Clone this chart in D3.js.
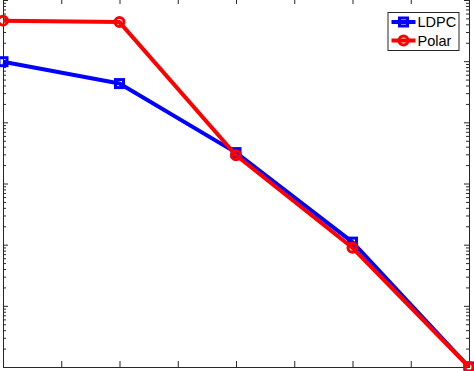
<!DOCTYPE html>
<html>
<head>
<meta charset="utf-8">
<script src="https://cdn.jsdelivr.net/npm/d3@7"></script>
<style>
  body { margin: 0; padding: 0; background: white; }
  svg { display: block; }
</style>
</head>
<body>
<div id="main"></div>
<script>
const w = 474;
const h = 371;
const plotLeft = 3, plotRight = 469, plotTop = 0, plotBottom = 367;

// data (log y axis, one decade ~ 61px)
const snr = [0, 1, 2, 3, 4];
const ldpc = [0.098, 0.043, 3.2e-3, 1.1e-4, 1e-6];
const polar = [0.46, 0.435, 2.9e-3, 8.9e-5, 1e-6];
const xTicks = [0, 0.5, 1, 1.5, 2, 2.5, 3, 3.5, 4];
const yMajor = [1e-6, 1e-5, 1e-4, 1e-3, 1e-2, 1e-1, 1];
const seriesNames = ['LDPC', 'Polar'];
const seriesColors = ['#0000ff', '#ff0000'];

const yMinor = [];
yMajor.slice(0, -1).forEach(d => {
  for (let k = 2; k <= 9; k++) yMinor.push(d * k);
});

const xScale = d3.scaleLinear()
                 .domain([0, 4])
                 .range([plotLeft, plotRight]);
const yScale = d3.scaleLog()
                 .domain([1e-6, 1])
                 .range([plotBottom, plotTop]);

const svg = d3.select('#main')
              .append('svg')
              .attr('width', w)
              .attr('height', h);

const axisColor = '#262626';

function styleAxis(g) {
  g.selectAll('path').attr('stroke', axisColor).attr('stroke-width', 1);
  g.selectAll('line').attr('stroke', axisColor).attr('stroke-width', 1);
  g.selectAll('text').remove();
}

svg.append('g')
   .attr('transform', 'translate(0,' + plotBottom + ')')
   .call(d3.axisBottom(xScale).tickValues(xTicks).tickSizeInner(-6).tickSizeOuter(0).tickFormat(''))
   .call(styleAxis);
// top box edge sits just above the cropped picture, only its ticks show
svg.append('g')
   .attr('transform', 'translate(0,' + (plotTop - 2) + ')')
   .call(d3.axisTop(xScale).tickValues(xTicks).tickSizeInner(-6).tickSizeOuter(0).tickFormat(''))
   .call(styleAxis);

svg.append('g')
   .attr('transform', 'translate(' + plotLeft + ',0)')
   .call(d3.axisLeft(yScale).tickValues(yMajor).tickSizeInner(-5).tickSizeOuter(0).tickFormat(''))
   .call(styleAxis);
svg.append('g')
   .attr('transform', 'translate(' + plotLeft + ',0)')
   .call(d3.axisLeft(yScale).tickValues(yMinor).tickSizeInner(-3).tickSizeOuter(0).tickFormat(''))
   .call(styleAxis);
svg.append('g')
   .attr('transform', 'translate(' + plotRight + ',0)')
   .call(d3.axisRight(yScale).tickValues(yMajor).tickSizeInner(-5).tickSizeOuter(0).tickFormat(''))
   .call(styleAxis);
svg.append('g')
   .attr('transform', 'translate(' + plotRight + ',0)')
   .call(d3.axisRight(yScale).tickValues(yMinor).tickSizeInner(-3).tickSizeOuter(0).tickFormat(''))
   .call(styleAxis);

const line = d3.line()
               .x((d, i) => xScale(snr[i]))
               .y(d => yScale(d));

// LDPC
svg.append('path')
   .datum(ldpc)
   .attr('d', line)
   .attr('fill', 'none')
   .attr('stroke', seriesColors[0])
   .attr('stroke-width', 4)
   .attr('stroke-linejoin', 'round');
svg.selectAll('rect.ldpc')
   .data(ldpc)
   .enter()
   .append('rect')
   .attr('class', 'ldpc')
   .attr('x', (d, i) => xScale(snr[i]) - 4)
   .attr('y', d => yScale(d) - 4)
   .attr('width', 8)
   .attr('height', 8)
   .attr('fill', 'none')
   .attr('stroke', seriesColors[0])
   .attr('stroke-width', 3);

// Polar
svg.append('path')
   .datum(polar)
   .attr('d', line)
   .attr('fill', 'none')
   .attr('stroke', seriesColors[1])
   .attr('stroke-width', 4)
   .attr('stroke-linejoin', 'round');
svg.selectAll('circle.polar')
   .data(polar)
   .enter()
   .append('circle')
   .attr('class', 'polar')
   .attr('cx', (d, i) => xScale(snr[i]))
   .attr('cy', d => yScale(d))
   .attr('r', 4.5)
   .attr('fill', 'none')
   .attr('stroke', seriesColors[1])
   .attr('stroke-width', 3);

// legend
const legend = svg.append('g')
                  .attr('transform', 'translate(388,12.5)');
legend.append('rect')
      .attr('width', 71)
      .attr('height', 38)
      .attr('fill', 'white')
      .attr('stroke', axisColor)
      .attr('stroke-width', 1);

seriesNames.forEach((name, i) => {
  const yy = 9.5 + i * 18.5;
  legend.append('line')
        .attr('x1', 3.5).attr('x2', 27.5)
        .attr('y1', yy).attr('y2', yy)
        .attr('stroke', seriesColors[i])
        .attr('stroke-width', 4);
  if (i === 0) {
    legend.append('rect')
          .attr('x', 11.5).attr('y', yy - 4)
          .attr('width', 8).attr('height', 8)
          .attr('fill', 'none')
          .attr('stroke', seriesColors[i])
          .attr('stroke-width', 3);
  } else {
    legend.append('circle')
          .attr('cx', 15.5).attr('cy', yy)
          .attr('r', 4.5)
          .attr('fill', 'none')
          .attr('stroke', seriesColors[i])
          .attr('stroke-width', 3);
  }
  legend.append('text')
        .attr('x', 29.5)
        .attr('y', yy + 5)
        .attr('font-family', 'Liberation Sans, Arial, sans-serif')
        .attr('font-size', '14.5px')
        .attr('fill', 'black')
        .text(name);
});
</script>
</body>
</html>
